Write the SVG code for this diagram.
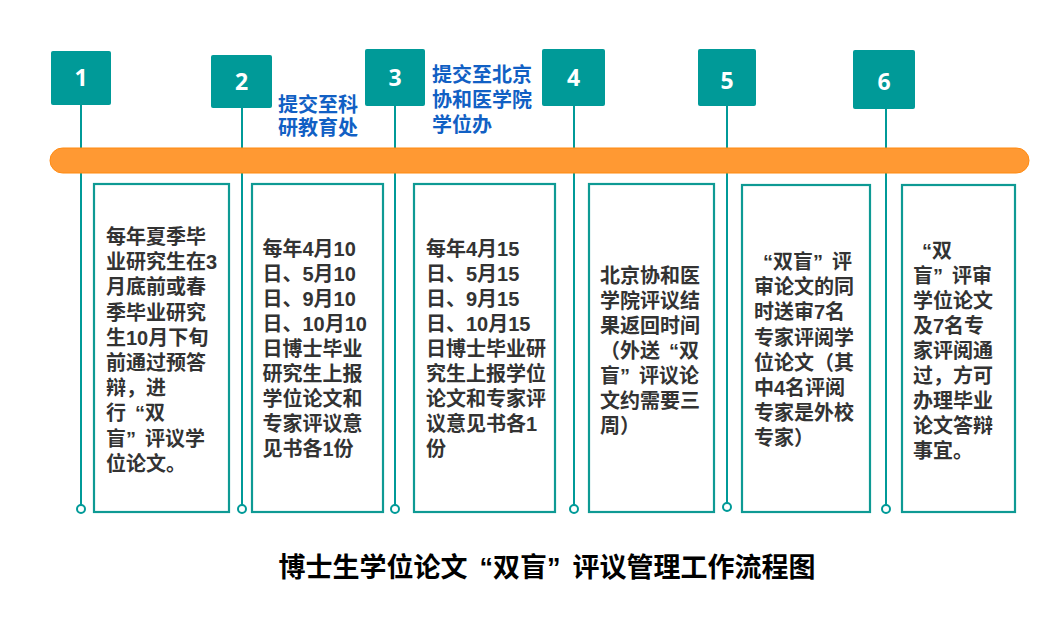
<svg xmlns="http://www.w3.org/2000/svg" width="1062" height="640" viewBox="0 0 1062 640">
<style>
.num{fill:#009A98;}
.numt{font-family:"Open Sans","Noto Sans",sans-serif;font-weight:bold;font-size:23px;fill:#fff;text-anchor:middle;}
.vl{stroke:#009A98;stroke-width:2;fill:none;}
.dot{fill:#fff;stroke:#009A98;stroke-width:2;}
.box{fill:#fff;stroke:#0E9A94;stroke-width:2.2;}
.bt{font-family:"Liberation Sans","Noto Sans CJK SC",sans-serif;font-weight:bold;font-size:20px;fill:#333;}
.blue{font-family:"Liberation Sans","Noto Sans CJK SC",sans-serif;font-weight:bold;font-size:20px;fill:#1160C4;}
.title{font-family:"Liberation Sans","Noto Sans CJK SC",sans-serif;font-weight:bold;font-size:27px;fill:#000;text-anchor:middle;}
</style>
<rect width="1062" height="640" fill="#fff"/>
<g id="connectors">
<line class="vl" x1="81" y1="105" x2="81" y2="505"/>
<line class="vl" x1="242" y1="108" x2="242" y2="505"/>
<line class="vl" x1="395" y1="106" x2="395" y2="505"/>
<line class="vl" x1="574" y1="106" x2="574" y2="505"/>
<line class="vl" x1="727" y1="106" x2="727" y2="503"/>
<line class="vl" x1="886" y1="109" x2="886" y2="505"/>
</g>
<g id="timeline">
<rect x="50" y="148" width="979" height="25" rx="12.5" ry="12.5" fill="#FF9933" stroke="#FF8A10" stroke-width="1"/>
</g>
<g id="dots">
<circle class="dot" cx="81" cy="509" r="4"/>
<circle class="dot" cx="242" cy="509" r="4"/>
<circle class="dot" cx="395" cy="509" r="4"/>
<circle class="dot" cx="574" cy="509" r="4"/>
<circle class="dot" cx="727" cy="507" r="4"/>
<circle class="dot" cx="886" cy="509" r="4"/>
</g>
<g id="n1"><rect class="num" x="51" y="51" width="60" height="54" rx="2"/><text class="numt" x="81" y="86">1</text></g>
<g id="n2"><rect class="num" x="211" y="55" width="61" height="53" rx="2"/><text class="numt" x="241.5" y="90">2</text></g>
<g id="n3"><rect class="num" x="365" y="49" width="60" height="57" rx="2"/><text class="numt" x="395" y="86">3</text></g>
<g id="n4"><rect class="num" x="542" y="49" width="63" height="57" rx="2"/><text class="numt" x="573.5" y="86">4</text></g>
<g id="n5"><rect class="num" x="698" y="49" width="58" height="57" rx="2"/><text class="numt" x="727" y="89">5</text></g>
<g id="n6"><rect class="num" x="853" y="50" width="62" height="59" rx="2"/><text class="numt" x="884" y="90">6</text></g>
<g id="label2"><text class="blue" x="278" y="112.2"><tspan x="278">提交至科</tspan><tspan x="278" dy="22.6">研教育处</tspan></text></g>
<g id="label3"><text class="blue" x="432" y="82"><tspan x="432">提交至北京</tspan><tspan x="432" dy="25">协和医学院</tspan><tspan x="432" dy="25">学位办</tspan></text></g>
<g id="b1"><rect class="box" x="94" y="184" width="135" height="328"/>
<text class="bt" y="244"><tspan x="106">每年夏季毕</tspan><tspan x="106" dy="25.2">业研究生在3</tspan><tspan x="106" dy="25.2">月底前或春</tspan><tspan x="106" dy="25.2">季毕业研究</tspan><tspan x="106" dy="25.2">生10月下旬</tspan><tspan x="106" dy="25.2">前通过预答</tspan><tspan x="106" dy="25.2">辩，进</tspan><tspan x="106" dy="25.2">行<tspan dx="9">“</tspan>双</tspan><tspan x="106" dy="25.2">盲”<tspan dx="9">评</tspan>议学</tspan><tspan x="106" dy="25.2">位论文。</tspan></text></g>
<g id="b2"><rect class="box" x="252" y="184" width="131" height="328"/>
<text class="bt" y="256"><tspan x="262.5">每年4月10</tspan><tspan x="262.5" dy="25">日、5月10</tspan><tspan x="262.5" dy="25">日、9月10</tspan><tspan x="262.5" dy="25">日、10月10</tspan><tspan x="262.5" dy="25">日博士毕业</tspan><tspan x="262.5" dy="25">研究生上报</tspan><tspan x="262.5" dy="25">学位论文和</tspan><tspan x="262.5" dy="25">专家评议意</tspan><tspan x="262.5" dy="25">见书各1份</tspan></text></g>
<g id="b3"><rect class="box" x="414" y="184" width="141" height="328"/>
<text class="bt" y="256"><tspan x="426">每年4月15</tspan><tspan x="426" dy="25">日、5月15</tspan><tspan x="426" dy="25">日、9月15</tspan><tspan x="426" dy="25">日、10月15</tspan><tspan x="426" dy="25">日博士毕业研</tspan><tspan x="426" dy="25">究生上报学位</tspan><tspan x="426" dy="25">论文和专家评</tspan><tspan x="426" dy="25">议意见书各1</tspan><tspan x="426" dy="25">份</tspan></text></g>
<g id="b4"><rect class="box" x="589" y="184" width="125" height="328"/>
<text class="bt" y="282.6"><tspan x="600">北京协和医</tspan><tspan x="600" dy="25">学院评议结</tspan><tspan x="600" dy="25">果返回时间</tspan><tspan x="600" dy="25">（外送<tspan dx="9">“</tspan>双</tspan><tspan x="600" dy="25">盲”<tspan dx="9">评</tspan>议论</tspan><tspan x="600" dy="25">文约需要三</tspan><tspan x="600" dy="25">周）</tspan></text></g>
<g id="b5"><rect class="box" x="742" y="185" width="128" height="327"/>
<text class="bt" y="269"><tspan x="763">“双盲”<tspan dx="9">评</tspan></tspan><tspan x="754" dy="25.2">审论文的同</tspan><tspan x="754" dy="25.2">时送审7名</tspan><tspan x="754" dy="25.2">专家评阅学</tspan><tspan x="754" dy="25.2">位论文（其</tspan><tspan x="754" dy="25.2">中4名评阅</tspan><tspan x="754" dy="25.2">专家是外校</tspan><tspan x="754" dy="25.2">专家）</tspan></text></g>
<g id="b6"><rect class="box" x="902" y="185" width="113" height="327"/>
<text class="bt" y="258"><tspan x="922">“双</tspan><tspan x="913" dy="25">盲”<tspan dx="9">评</tspan>审</tspan><tspan x="913" dy="25">学位论文</tspan><tspan x="913" dy="25">及7名专</tspan><tspan x="913" dy="25">家评阅通</tspan><tspan x="913" dy="25">过，方可</tspan><tspan x="913" dy="25">办理毕业</tspan><tspan x="913" dy="25">论文答辩</tspan><tspan x="913" dy="25">事宜。</tspan></text></g>
<g id="title"><text class="title" x="547" y="577">博士生学位论文<tspan dx="12">“</tspan>双盲”<tspan dx="12">评</tspan>议管理工作流程图</text></g>
</svg>
